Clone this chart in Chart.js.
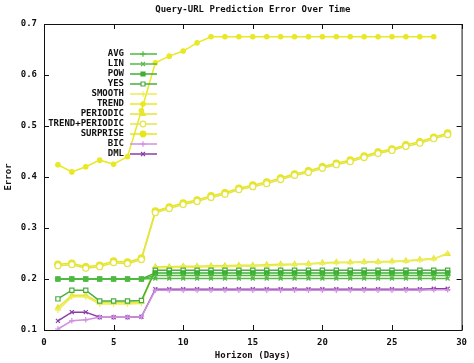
<!DOCTYPE html>
<html>
<head>
<meta charset="utf-8">
<title>Query-URL Prediction Error Over Time</title>
<script src="https://cdn.jsdelivr.net/npm/chart.js@4/dist/chart.umd.min.js"></script>
<style>
  html, body { margin: 0; padding: 0; background: #fff; }
</style>
</head>
<body>
<canvas id="errorChart" width="474" height="363"></canvas>
<script>
const chartTitle = 'Query-URL Prediction Error Over Time';
const days = [1, 2, 3, 4, 5, 6, 7, 8, 9, 10, 11, 12, 13, 14, 15, 16, 17, 18, 19, 20, 21, 22, 23, 24, 25, 26, 27, 28, 29];
const yTicks = [0.1, 0.2, 0.3, 0.4, 0.5, 0.6, 0.7];
const xTicks = [0, 5, 10, 15, 20, 25, 30];

const avg = [0.200, 0.200, 0.200, 0.200, 0.200, 0.200, 0.200, 0.207, 0.207, 0.207, 0.207, 0.207, 0.207, 0.207, 0.207, 0.207, 0.207, 0.207, 0.207, 0.207, 0.207, 0.207, 0.207, 0.207, 0.207, 0.207, 0.207, 0.207, 0.207];
const lin = [0.200, 0.200, 0.200, 0.200, 0.200, 0.200, 0.200, 0.201, 0.201, 0.201, 0.201, 0.201, 0.201, 0.201, 0.201, 0.201, 0.201, 0.201, 0.201, 0.201, 0.201, 0.201, 0.201, 0.201, 0.201, 0.201, 0.201, 0.201, 0.201];
const pow = [0.200, 0.200, 0.200, 0.200, 0.200, 0.200, 0.200, 0.212, 0.212, 0.212, 0.212, 0.212, 0.212, 0.212, 0.212, 0.212, 0.212, 0.212, 0.212, 0.212, 0.212, 0.212, 0.212, 0.212, 0.212, 0.212, 0.212, 0.212, 0.212];
const yes = [0.161, 0.178, 0.178, 0.157, 0.157, 0.157, 0.158, 0.217, 0.217, 0.217, 0.217, 0.217, 0.217, 0.217, 0.217, 0.217, 0.217, 0.217, 0.217, 0.217, 0.217, 0.217, 0.217, 0.217, 0.217, 0.217, 0.217, 0.217, 0.217];
const smooth = [0.139, 0.165, 0.165, 0.151, 0.151, 0.151, 0.152, 0.222, 0.222, 0.223, 0.223, 0.224, 0.224, 0.225, 0.225, 0.226, 0.227, 0.228, 0.229, 0.231, 0.232, 0.232, 0.233, 0.233, 0.234, 0.235, 0.237, 0.239, 0.251];
const trend = [0.424, 0.410, 0.420, 0.433, 0.425, 0.440, 0.530, 0.624, 0.637, 0.647, 0.663, 0.675, 0.675, 0.675, 0.675, 0.675, 0.675, 0.675, 0.675, 0.675, 0.675, 0.675, 0.675, 0.675, 0.675, 0.675, 0.675, 0.675, null];
const periodic = [0.144, 0.168, 0.168, 0.154, 0.154, 0.154, 0.155, 0.224, 0.224, 0.225, 0.225, 0.226, 0.226, 0.227, 0.227, 0.228, 0.229, 0.229, 0.230, 0.232, 0.233, 0.233, 0.234, 0.234, 0.235, 0.236, 0.238, 0.240, 0.249];
const trendPeriodic = [0.226, 0.228, 0.221, 0.224, 0.232, 0.230, 0.238, 0.330, 0.338, 0.346, 0.352, 0.360, 0.366, 0.375, 0.381, 0.387, 0.395, 0.403, 0.409, 0.417, 0.424, 0.430, 0.438, 0.446, 0.452, 0.460, 0.466, 0.475, 0.483];
const surprise = [0.229, 0.231, 0.224, 0.227, 0.235, 0.233, 0.241, 0.333, 0.341, 0.349, 0.355, 0.363, 0.369, 0.378, 0.384, 0.390, 0.398, 0.406, 0.412, 0.420, 0.427, 0.433, 0.441, 0.449, 0.455, 0.463, 0.469, 0.478, 0.486];
const bic = [0.102, 0.118, 0.120, 0.125, 0.125, 0.125, 0.126, 0.178, 0.178, 0.178, 0.178, 0.178, 0.178, 0.178, 0.178, 0.178, 0.178, 0.178, 0.178, 0.178, 0.178, 0.178, 0.178, 0.178, 0.178, 0.178, 0.178, 0.179, 0.179];
const dml = [0.118, 0.135, 0.135, 0.125, 0.125, 0.125, 0.126, 0.180, 0.180, 0.180, 0.180, 0.180, 0.180, 0.180, 0.180, 0.180, 0.180, 0.180, 0.180, 0.180, 0.180, 0.180, 0.180, 0.180, 0.180, 0.180, 0.180, 0.181, 0.181];

const FONT = '"DejaVu Sans Mono", "Liberation Mono", monospace';

function series(label, values, color, style, opts = {}) {
    return Object.assign({
        label: label,
        data: values.map((v, i) => ({ x: days[i], y: v })),
        borderColor: color,
        backgroundColor: color,
        borderWidth: 1.5,
        pointStyle: style,
        pointRadius: 2.8,
        pointBorderWidth: 1.2,
        tension: 0,
    }, opts);
}

const datasets = [
    series('AVG', avg, '#4cbb3e', 'cross'),
    series('LIN', lin, '#58b848', 'crossRot'),
    series('POW', pow, '#3fae36', 'rect', { pointRadius: 3 }),
    series('YES', yes, '#4aad40', 'rect', { pointRadius: 3, backgroundColor: '#ffffff' }),
    series('SMOOTH', smooth, '#eded5a', 'cross'),
    series('TREND', trend, '#e8e824', 'circle', { pointRadius: 2.2 }),
    series('PERIODIC', periodic, '#e5e53a', 'triangle'),
    series('TREND+PERIODIC', trendPeriodic, '#e4e44a', 'circle', { pointRadius: 3, backgroundColor: '#ffffff' }),
    series('SURPRISE', surprise, '#e6e61c', 'circle', { pointRadius: 3.2 }),
    series('BIC', bic, '#d090e0', 'cross'),
    series('DML', dml, '#8a3ea8', 'crossRot'),
];

// gnuplot-style frame: border, inward mirrored ticks, title and key
const frame = {
    id: 'frame',
    afterDatasetsDraw(chart) {
        const { ctx, chartArea: a, scales: { x, y } } = chart;
        ctx.save();
        ctx.strokeStyle = '#111';
        ctx.lineWidth = 1;
        ctx.strokeRect(a.left + 0.5, a.top + 0.5, a.right - a.left, a.bottom - a.top);
        ctx.beginPath();
        yTicks.forEach(v => {
            const py = Math.round(y.getPixelForValue(v)) + 0.5;
            ctx.moveTo(a.left, py); ctx.lineTo(a.left + 5, py);
            ctx.moveTo(a.right, py); ctx.lineTo(a.right - 5, py);
        });
        xTicks.forEach(v => {
            const px = Math.round(x.getPixelForValue(v)) + 0.5;
            ctx.moveTo(px, a.bottom); ctx.lineTo(px, a.bottom - 5);
            ctx.moveTo(px, a.top); ctx.lineTo(px, a.top + 5);
        });
        ctx.stroke();

        ctx.fillStyle = '#111';
        ctx.font = 'bold 9px ' + FONT;
        ctx.textAlign = 'center';
        ctx.textBaseline = 'middle';
        ctx.fillText(chartTitle, (a.left + a.right) / 2, 10);

        // key
        ctx.textAlign = 'right';
        chart.data.datasets.forEach((ds, i) => {
            const ry = 54 + i * 10;
            ctx.fillStyle = '#111';
            ctx.fillText(ds.label, 124, ry);
            ctx.strokeStyle = ds.borderColor;
            ctx.lineWidth = ds.borderWidth;
            ctx.beginPath();
            ctx.moveTo(130, ry); ctx.lineTo(157, ry);
            ctx.stroke();
            ctx.fillStyle = ds.backgroundColor;
            ctx.lineWidth = ds.pointBorderWidth;
            Chart.helpers.drawPoint(ctx, {
                pointStyle: ds.pointStyle,
                radius: Math.min(ds.pointRadius, 2.8),
                rotation: 0,
                borderWidth: ds.pointBorderWidth,
            }, 143, ry);
        });
        ctx.restore();
    }
};

new Chart(document.getElementById('errorChart'), {
    type: 'line',
    data: { datasets: datasets },
    options: {
        responsive: false,
        animation: false,
        layout: { padding: { top: 24, right: 8, left: 0, bottom: 0 } },
        plugins: {
            legend: { display: false },
            title: { display: false },
            tooltip: { enabled: false },
        },
        scales: {
            x: {
                type: 'linear',
                min: 0,
                max: 30,
                grid: { display: false, drawTicks: false },
                border: { display: false },
                ticks: {
                    stepSize: 5,
                    padding: 7,
                    color: '#111',
                    font: { family: FONT, size: 9, weight: 'bold' },
                    callback: v => v,
                },
                title: {
                    display: true,
                    text: 'Horizon (Days)',
                    color: '#111',
                    font: { family: FONT, size: 9, weight: 'bold' },
                    padding: { top: 0, bottom: 2 },
                },
                afterFit(scale) { scale.height = 33; },
            },
            y: {
                min: 0.1,
                max: 0.7,
                grid: { display: false, drawTicks: false },
                border: { display: false },
                ticks: {
                    stepSize: 0.1,
                    padding: 7,
                    color: '#111',
                    font: { family: FONT, size: 9, weight: 'bold' },
                    callback: v => v.toFixed(1),
                },
                title: {
                    display: true,
                    text: 'Error',
                    color: '#111',
                    font: { family: FONT, size: 9, weight: 'bold' },
                    padding: { top: 3, bottom: 0 },
                },
                afterFit(scale) { scale.width = 44; },
            },
        },
    },
    plugins: [frame],
});
</script>
</body>
</html>
